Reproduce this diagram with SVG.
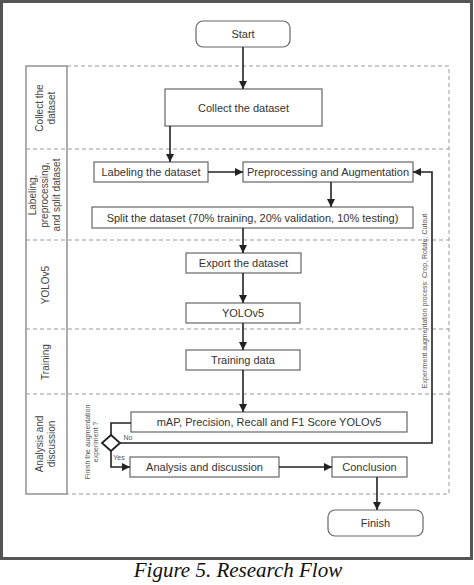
<svg xmlns="http://www.w3.org/2000/svg" width="474" height="585" viewBox="0 0 474 585">
<defs>
<marker id="ah" viewBox="0 0 10 10" refX="10" refY="5" markerWidth="8" markerHeight="8" markerUnits="userSpaceOnUse" orient="auto">
<path d="M0,0 L10,5 L0,10 z" fill="#222"/>
</marker>
<style>
.box{fill:#fff;stroke:#666;stroke-width:1.2}
.term{fill:#fff;stroke:#666;stroke-width:1.2}
.t{font-family:"Liberation Sans",Arial,sans-serif;font-size:11px;fill:#333;text-anchor:middle;dominant-baseline:central}
.lane{font-family:"Liberation Sans",Arial,sans-serif;font-size:10px;fill:#444;text-anchor:middle}
.small{font-family:"Liberation Sans",Arial,sans-serif;font-size:7px;fill:#555;text-anchor:middle}
.dash{stroke:#999;stroke-width:1;stroke-dasharray:4,3;fill:none}
.solid{stroke:#777;stroke-width:1.2;fill:none}
.c{stroke:#222;stroke-width:1.6;fill:none}
.ca{stroke:#222;stroke-width:1.6;fill:none;marker-end:url(#ah)}
</style>
</defs>
<rect x="0" y="0" width="474" height="585" fill="#fff"/>
<rect x="1.5" y="1.5" width="470" height="557" fill="none" stroke="#555" stroke-width="3"/>
<g id="lanes">
<rect x="26" y="66" width="41" height="428" class="solid"/>
<path class="dash" d="M67,66 H449 V494 H67"/>
<path class="dash" d="M26,149 H449 M26,240 H449 M26,329 H449 M26,394 H449"/>
<g class="lane">
<text transform="translate(43,108) rotate(-90)">Collect the</text>
<text transform="translate(55,108) rotate(-90)">dataset</text>
<text transform="translate(36,195) rotate(-90)">Labeling,</text>
<text transform="translate(48,195) rotate(-90)">preprocessing,</text>
<text transform="translate(60,195) rotate(-90)">and split dataset</text>
<text transform="translate(49,285) rotate(-90)">YOLOv5</text>
<text transform="translate(49,362) rotate(-90)">Training</text>
<text transform="translate(43,444) rotate(-90)">Analysis and</text>
<text transform="translate(55,444) rotate(-90)">discussion</text>
</g>
</g>
<g id="start"><rect class="term" x="196" y="21" width="94" height="26" rx="7"/><text class="t" x="243" y="34" font-size="12">Start</text></g>
<g id="collect"><rect class="box" x="165" y="89" width="157" height="37"/><text class="t" x="243.5" y="108">Collect the dataset</text></g>
<g id="labeling"><rect class="box" x="94" y="162" width="114" height="20"/><text class="t" x="151" y="172">Labeling the dataset</text></g>
<g id="preproc"><rect class="box" x="243" y="162" width="170" height="20"/><text class="t" x="328" y="172">Preprocessing and Augmentation</text></g>
<g id="split"><rect class="box" x="92" y="207" width="321" height="21"/><text class="t" x="252.5" y="217.5">Split the dataset (70% training, 20% validation, 10% testing)</text></g>
<g id="export"><rect class="box" x="186" y="253" width="115" height="20"/><text class="t" x="243.5" y="263">Export the dataset</text></g>
<g id="yolo"><rect class="box" x="186" y="303" width="114" height="20"/><text class="t" x="243" y="313">YOLOv5</text></g>
<g id="training"><rect class="box" x="186" y="350" width="114" height="20"/><text class="t" x="243" y="360">Training data</text></g>
<g id="map"><rect class="box" x="131" y="412" width="276" height="20"/><text class="t" x="269" y="422">mAP, Precision, Recall and F1 Score YOLOv5</text></g>
<g id="decision">
<path d="M111,435 L120,443 L111,451 L102,443 z" fill="#fff" stroke="#222" stroke-width="1.8"/>
<text class="small" transform="translate(90,442) rotate(-90)">Finish the augmentation</text>
<text class="small" transform="translate(98,442) rotate(-90)">experiment ?</text>
</g>
<g id="analysis"><rect class="box" x="130" y="457" width="149" height="20"/><text class="t" x="204.5" y="467">Analysis and discussion</text></g>
<g id="conclusion"><rect class="box" x="332" y="457" width="75" height="20"/><text class="t" x="369.5" y="467">Conclusion</text></g>
<g id="finish"><rect class="term" x="328" y="510" width="95" height="26" rx="7"/><text class="t" x="375.5" y="523" font-size="12">Finish</text></g>
<g id="connectors">
<path class="ca" d="M243,47 V89"/>
<path class="ca" d="M170,126 V162"/>
<path class="ca" d="M208,172 H243"/>
<path class="ca" d="M331,182 V207"/>
<path class="ca" d="M243,228 V253"/>
<path class="ca" d="M243,273 V303"/>
<path class="ca" d="M243,323 V350"/>
<path class="ca" d="M243,370 V412"/>
<path class="c" d="M131,423 H111 V435"/>
<path class="ca" d="M120,443 H432 V172 H413"/>
<path class="ca" d="M111,451 V467 H130"/>
<path class="ca" d="M279,467 H332"/>
<path class="ca" d="M377,477 V510"/>
<text class="small" x="128" y="440">No</text>
<text class="small" x="119" y="460">Yes</text>
<text class="small" transform="translate(427,301) rotate(-90)">Experiment augmentation process: Crop, Rotate, Cutout</text>
</g>
<text x="238" y="577" font-family="Liberation Serif,'Times New Roman',serif" font-style="italic" font-size="21" fill="#111" text-anchor="middle">Figure 5. Research Flow</text>
</svg>
